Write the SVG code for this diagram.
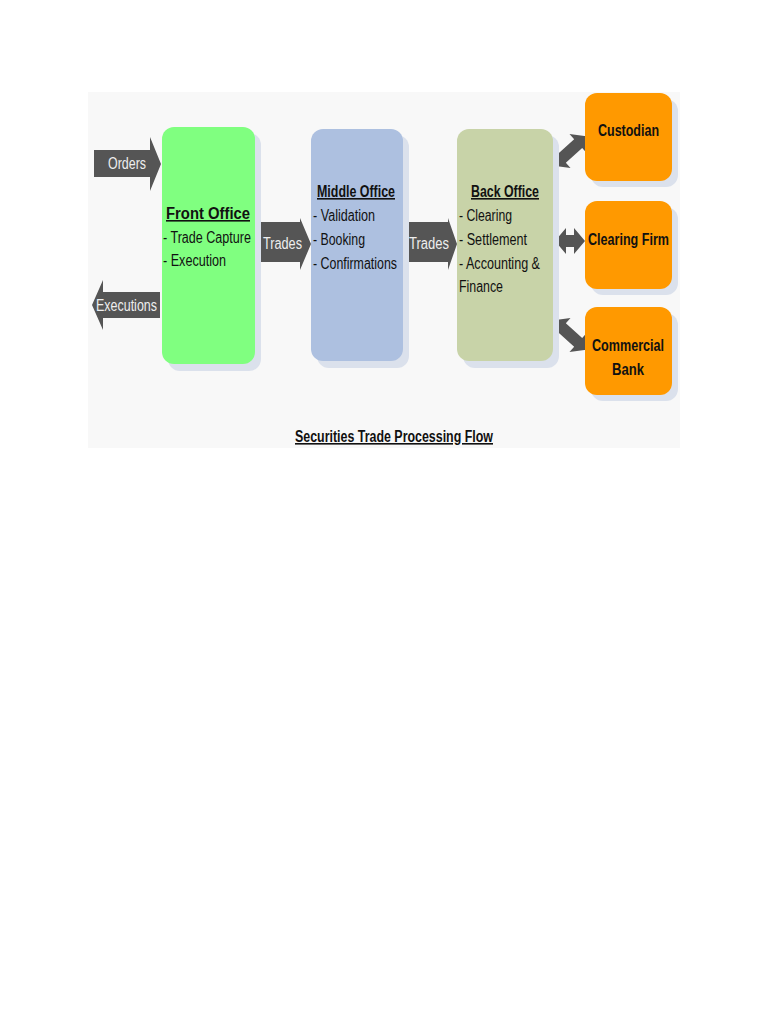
<svg xmlns="http://www.w3.org/2000/svg" width="768" height="1024" viewBox="0 0 768 1024">
<defs>
<style>
text{font-family:"Liberation Sans",Arial,sans-serif;fill:#111}
.t{font-size:16px}
.b{font-size:16px;font-weight:bold;text-decoration:underline}
.ob{font-size:16px;font-weight:bold}
.w{font-size:16px;fill:#eee}
.sh{fill:#dbe1ec}
.ar{fill:#555}
</style>
</defs>
<rect width="768" height="1024" fill="#fff"/>
<rect x="88" y="92" width="592" height="356" fill="#f8f8f8"/>
<g id="connectors">
<path class="ar" d="M94,150 H150 V137 L161,164 L150,191 V177 H94 Z"/>
<text class="w" x="108" y="169" textLength="38" lengthAdjust="spacingAndGlyphs">Orders</text>
<path class="ar" d="M160,292 H103 V280 L92,305 L103,330 V318 H160 Z"/>
<text class="w" x="96" y="311" textLength="61" lengthAdjust="spacingAndGlyphs">Executions</text>
<path class="ar" d="M255,222 H300 V218 L311,244 L300,270 V262 H255 Z"/>
<text class="w" x="263" y="249" textLength="39" lengthAdjust="spacingAndGlyphs">Trades</text>
<path class="ar" d="M403,222 H448 V218 L457,244 L448,270 V262 H403 Z"/>
<text class="w" x="409" y="249" textLength="40" lengthAdjust="spacingAndGlyphs">Trades</text>
<path class="ar" d="M555,241 L566,228 V235 H574 V228 L585,241 L574,254 V247 H566 V254 Z"/>
<g transform="translate(570,151) rotate(-42)"><path class="ar" d="M-22,0 L-11,-13 V-6 H11 V-13 L22,0 L11,13 V6 H-11 V13 Z"/></g>
<g transform="translate(570,335) rotate(42)"><path class="ar" d="M-22,0 L-11,-13 V-6 H11 V-13 L22,0 L11,13 V6 H-11 V13 Z"/></g>
</g>
<g id="front">
<rect class="sh" x="168" y="133" width="93" height="238" rx="12"/>
<rect x="162" y="127" width="93" height="237" rx="12" fill="#80ff80"/>
<text class="b" x="166" y="219" textLength="84" lengthAdjust="spacingAndGlyphs">Front Office</text>
<text class="t" x="163" y="243" textLength="88" lengthAdjust="spacingAndGlyphs">- Trade Capture</text>
<text class="t" x="163" y="266" textLength="63" lengthAdjust="spacingAndGlyphs">- Execution</text>
</g>
<g id="middle">
<rect class="sh" x="317" y="135" width="92" height="233" rx="12"/>
<rect x="311" y="129" width="92" height="232" rx="12" fill="#adc0e0"/>
<text class="b" x="317" y="197" textLength="78" lengthAdjust="spacingAndGlyphs">Middle Office</text>
<text class="t" x="313" y="221" textLength="62" lengthAdjust="spacingAndGlyphs">- Validation</text>
<text class="t" x="313" y="245" textLength="52" lengthAdjust="spacingAndGlyphs">- Booking</text>
<text class="t" x="313" y="269" textLength="84" lengthAdjust="spacingAndGlyphs">- Confirmations</text>
</g>
<g id="back">
<rect class="sh" x="463" y="135" width="96" height="233" rx="12"/>
<rect x="457" y="129" width="96" height="232" rx="12" fill="#c8d3a8"/>
<text class="b" x="471" y="197" textLength="68" lengthAdjust="spacingAndGlyphs">Back Office</text>
<text class="t" x="459" y="221" textLength="53" lengthAdjust="spacingAndGlyphs">- Clearing</text>
<text class="t" x="459" y="245" textLength="68" lengthAdjust="spacingAndGlyphs">- Settlement</text>
<text class="t" x="459" y="269" textLength="81" lengthAdjust="spacingAndGlyphs">- Accounting &amp;</text>
<text class="t" x="459" y="292" textLength="44" lengthAdjust="spacingAndGlyphs">Finance</text>
</g>
<g id="custodian">
<rect class="sh" x="591" y="99" width="87" height="88" rx="12"/>
<rect x="585" y="93" width="87" height="88" rx="12" fill="#ff9900"/>
<text class="ob" x="598" y="136" textLength="61" lengthAdjust="spacingAndGlyphs">Custodian</text>
</g>
<g id="clearing">
<rect class="sh" x="591" y="207" width="87" height="88" rx="12"/>
<rect x="585" y="201" width="87" height="88" rx="12" fill="#ff9900"/>
<text class="ob" x="588" y="245" textLength="81" lengthAdjust="spacingAndGlyphs">Clearing Firm</text>
</g>
<g id="bank">
<rect class="sh" x="591" y="313" width="87" height="88" rx="12"/>
<rect x="585" y="307" width="87" height="88" rx="12" fill="#ff9900"/>
<text class="ob" x="592" y="351" textLength="72" lengthAdjust="spacingAndGlyphs">Commercial</text>
<text class="ob" x="612" y="375" textLength="32" lengthAdjust="spacingAndGlyphs">Bank</text>
</g>
<text class="b" x="295" y="442" textLength="198" lengthAdjust="spacingAndGlyphs">Securities Trade Processing Flow</text>
</svg>
